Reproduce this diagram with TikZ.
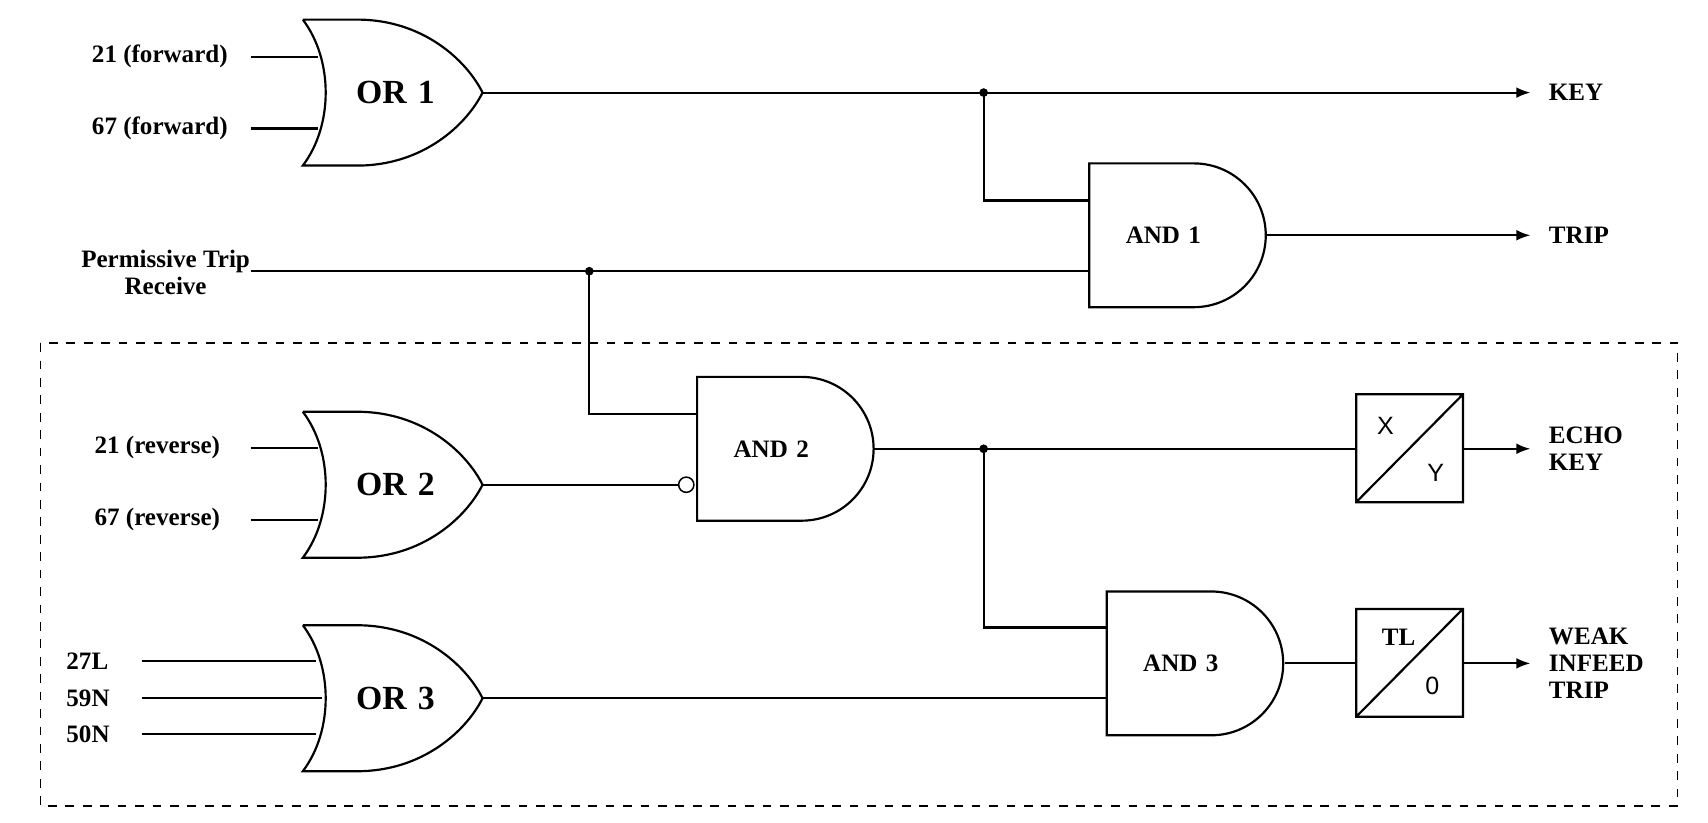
\documentclass[tikz,border=0pt]{standalone}
\usetikzlibrary{arrows.meta}
\usepackage{fontspec}
\setmainfont{Liberation Serif}
\newfontfamily\sansf{Liberation Sans}
\begin{document}
\begin{tikzpicture}[x=1pt,y=-1pt,line width=2pt,
 lbl/.style={font=\fontsize{23}{25}\selectfont\bfseries,align=center,inner sep=0},
 glbl/.style={font=\fontsize{31}{33}\selectfont\bfseries,inner sep=0},
 albl/.style={font=\fontsize{23}{25}\selectfont\bfseries,inner sep=0},
 sl/.style={font=\sansf\fontsize{23}{25}\selectfont,inner sep=0},
 arr/.style={-{Latex[length=13pt,width=10pt]}},
 dot/.style={circle,fill,inner sep=0,minimum size=8pt},
 orgate/.pic={\draw (0,-67) -- (50,-67) .. controls (110,-67) and (150,-30) .. (165,0) .. controls (150,30) and (110,67) .. (50,67) -- (0,67) .. controls (28,30) and (28,-30) .. (0,-67);},
 andgate/.pic={\draw (0,-66) -- (96,-66) arc[start angle=-90,end angle=90,radius=66] -- (0,66) -- cycle;},
 delay/.pic={\draw (0,0) rectangle (98,99) (0,99) -- (98,0);}]
\useasboundingbox (0,0) rectangle (1568,755);
\draw[line width=1.2pt,dash pattern=on 8pt off 8pt] (37,315) rectangle (1540,740);
% gates
\pic at (278,85) {orgate}; \node[glbl] at (363,85) {OR\,\,1};
\pic at (278,445) {orgate}; \node[glbl] at (363,445) {OR\,\,2};
\pic at (278,641) {orgate}; \node[glbl] at (363,641) {OR\,\,3};
\pic at (1000,216) {andgate}; \node[albl] at (1068,216) {AND\,\,1};
\pic at (640,412) {andgate}; \node[albl] at (708,412) {AND\,\,2};
\pic at (1016,609) {andgate}; \node[albl] at (1084,609) {AND\,\,3};
\pic at (1245,362) {delay};
\node[sl] at (1272,391) {X};
\node[sl] at (1318,434) {Y};
\pic at (1245,559) {delay};
\node[albl] at (1284,585) {TL};
\node[sl] at (1315,630) {0};
% coordinates
\coordinate (or1o) at (443,85); \coordinate (or2o) at (443,445); \coordinate (or3o) at (443,641);
\coordinate (and1o) at (1162,216); \coordinate (and2o) at (802,412); \coordinate (and3o) at (1180,609);
\node[dot] (j1) at (903,85) {}; \node[dot] (j2) at (541,249) {}; \node[dot] (j3) at (903,412) {};
% inputs
\node[lbl,anchor=east] (i1) at (210,52) {21 (forward)}; \draw (230,52) -- (292,52);
\node[lbl,anchor=east] (i2) at (210,118) {67 (forward)}; \draw (230,118) -- (292,118);
\node[lbl,anchor=east] (i3) at (203,411) {21 (reverse)}; \draw (230,411) -- (292,411);
\node[lbl,anchor=east] (i4) at (203,477) {67 (reverse)}; \draw (230,477) -- (292,477);
\node[lbl,anchor=west] (i5) at (60,607) {27L}; \draw (130,607) -- (290,607);
\node[lbl,anchor=west] (i6) at (60,641) {59N}; \draw (130,641) -- (296,641);
\node[lbl,anchor=west] (i7) at (60,674) {50N}; \draw (130,674) -- (290,674);
\node[lbl] (ptr) at (152,250) {Permissive Trip\\Receive};
\coordinate (ptrs) at (230,249);
% connections
\draw (or1o) -- (j1.center); \draw[arr] (j1.center) -- (1405,85) node[lbl,anchor=west,xshift=16pt] {KEY};
\draw (j1.center) |- (1000,184);
\draw (ptrs) -- (1000,249);
\draw (j2.center) |- (640,380);
\draw (or2o) -- (623,445); \draw[line width=1.4pt] (630,445) circle (7);
\draw[arr] (and1o) -- (1405,216) node[lbl,anchor=west,xshift=16pt] {TRIP};
\draw (and2o) -- (1245,412);
\draw[arr] (1343,412) -- (1405,412) node[lbl,anchor=west,xshift=16pt,align=left] {ECHO\\KEY};
\draw (j3.center) |- (1016,576);
\draw (or3o) -- (1016,641);
\draw (and3o) -- (1245,609);
\draw[arr] (1343,609) -- (1405,609) node[lbl,anchor=west,xshift=16pt,align=left] {WEAK\\INFEED\\TRIP};
\end{tikzpicture}
\end{document}
